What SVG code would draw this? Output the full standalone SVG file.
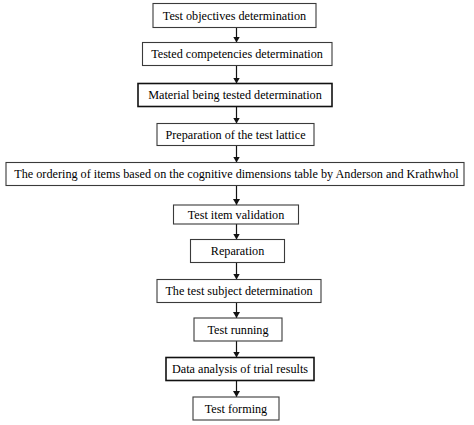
<svg xmlns="http://www.w3.org/2000/svg" width="474" height="425" viewBox="0 0 474 425">
<defs>
<marker id="ah" markerWidth="7" markerHeight="7" refX="6" refY="3.5" orient="auto" markerUnits="userSpaceOnUse">
<path d="M0,0 L6,3.5 L0,7 Z" fill="#111"/>
</marker>
<style>
.box{fill:#fff;stroke:#3a3a3a;stroke-width:1.1}
.bold{stroke:#111;stroke-width:1.6}
text{font-family:'Liberation Serif','DejaVu Serif','Times New Roman',serif;font-size:12.2px;fill:#000;text-anchor:middle}
.c{stroke:#111;stroke-width:1.2;fill:none}
</style>
</defs>
<rect width="474" height="425" fill="#fff"/>
<g id="connectors">
<line class="c" x1="236.5" y1="27.5" x2="236.5" y2="42.5" marker-end="url(#ah)"/>
<line class="c" x1="236.5" y1="65.5" x2="236.5" y2="83.5" marker-end="url(#ah)"/>
<line class="c" x1="236.5" y1="106.5" x2="236.5" y2="123.5" marker-end="url(#ah)"/>
<line class="c" x1="236.5" y1="145.5" x2="236.5" y2="162.5" marker-end="url(#ah)"/>
<line class="c" x1="236.5" y1="185.5" x2="236.5" y2="205" marker-end="url(#ah)"/>
<line class="c" x1="236.5" y1="224" x2="236.5" y2="239.5" marker-end="url(#ah)"/>
<line class="c" x1="236.5" y1="262.5" x2="236.5" y2="279.5" marker-end="url(#ah)"/>
<line class="c" x1="236.5" y1="302.5" x2="236.5" y2="318" marker-end="url(#ah)"/>
<line class="c" x1="236.5" y1="341" x2="236.5" y2="357.5" marker-end="url(#ah)"/>
<line class="c" x1="236.5" y1="380.5" x2="236.5" y2="397" marker-end="url(#ah)"/>
</g>
<g id="n1"><rect class="box" x="153" y="3.5" width="163" height="24"/><text font-family="Liberation Serif, serif" x="234.5" y="19.7">Test objectives determination</text></g>
<g id="n2"><rect class="box" x="142.5" y="42.5" width="189.5" height="23"/><text font-family="Liberation Serif, serif" x="237" y="58.2">Tested competencies determination</text></g>
<g id="n3"><rect class="box bold" x="138" y="83.5" width="194" height="23"/><text font-family="Liberation Serif, serif" x="235" y="99.2">Material being tested determination</text></g>
<g id="n4"><rect class="box" x="157" y="123.5" width="157" height="22"/><text font-family="Liberation Serif, serif" x="235.5" y="138.7">Preparation of the test lattice</text></g>
<g id="n5"><rect class="box" x="6" y="162.5" width="458" height="23"/><text font-family="Liberation Serif, serif" x="236.5" y="178.2">The ordering of items based on the cognitive dimensions table by Anderson and Krathwhol</text></g>
<g id="n6"><rect class="box" x="173.5" y="205" width="125" height="19"/><text font-family="Liberation Serif, serif" x="236" y="218.7">Test item validation</text></g>
<g id="n7"><rect class="box" x="190.5" y="239.5" width="94" height="23"/><text font-family="Liberation Serif, serif" x="237.5" y="255.2">Reparation</text></g>
<g id="n8"><rect class="box" x="157" y="279.5" width="164" height="23"/><text font-family="Liberation Serif, serif" x="239" y="295.2">The test subject determination</text></g>
<g id="n9"><rect class="box" x="194" y="318" width="88" height="23"/><text font-family="Liberation Serif, serif" x="238" y="333.7">Test running</text></g>
<g id="n10"><rect class="box bold" x="166" y="357.5" width="148" height="23"/><text font-family="Liberation Serif, serif" x="240" y="373.2">Data analysis of trial results</text></g>
<g id="n11"><rect class="box" x="193" y="397" width="86" height="23"/><text font-family="Liberation Serif, serif" x="236" y="412.7">Test forming</text></g>
</svg>
